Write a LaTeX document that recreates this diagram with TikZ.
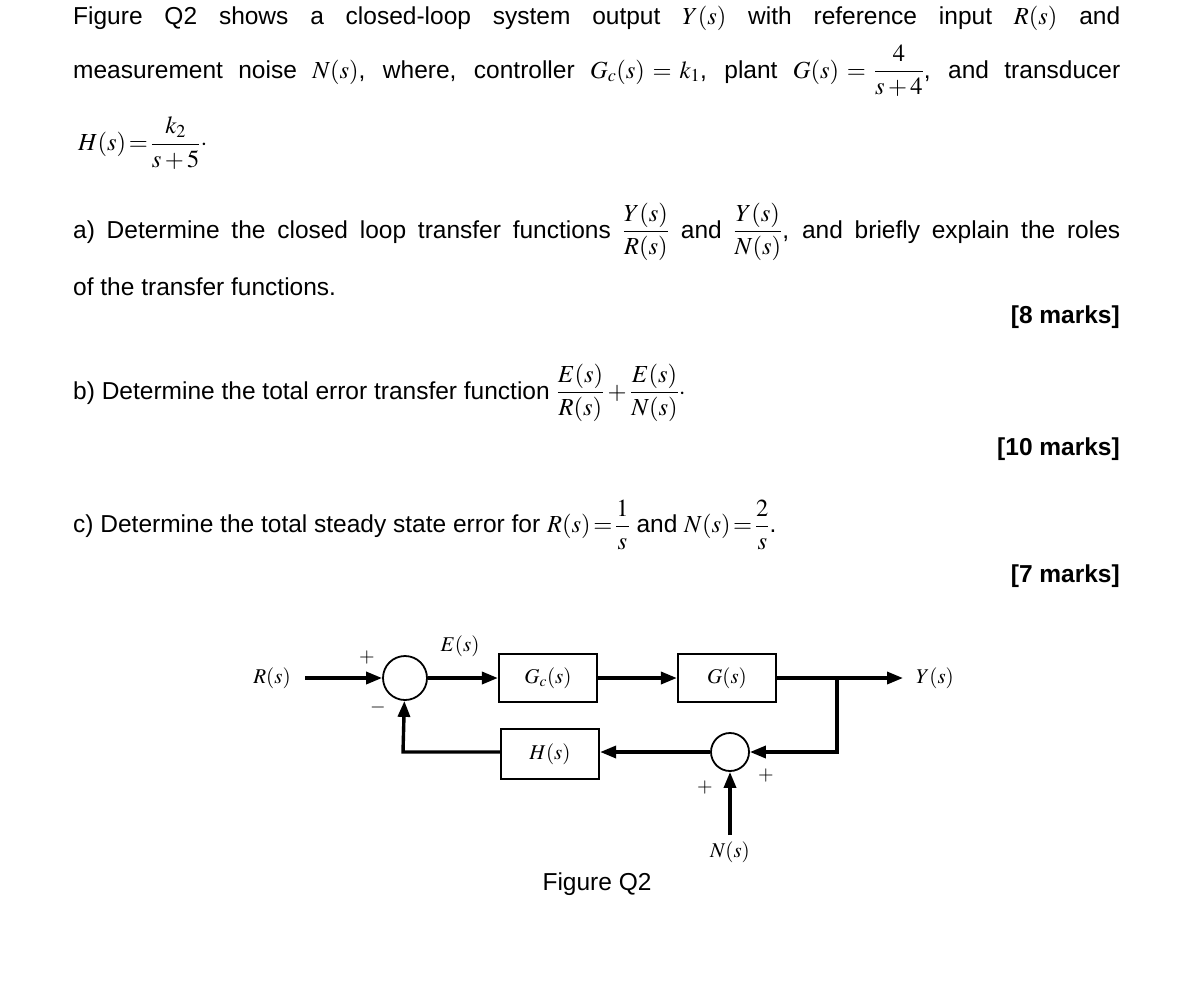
\documentclass[tikz,border=0pt]{standalone}
\usepackage{amsmath}
\usepackage{mathptmx}
\usepackage{fontspec}
\setmainfont{Liberation Sans}
\usetikzlibrary{arrows.meta}
\begin{document}
\begin{tikzpicture}[x=1pt,y=-1pt,
  txt/.style={anchor=west,inner sep=0pt,font=\fontsize{24.5}{29}\selectfont},
  mk/.style={anchor=east,inner sep=0pt,font=\fontsize{24.5}{29}\selectfont\bfseries},
  blk/.style={draw,line width=2.2pt,minimum width=98pt,minimum height=48pt,font=\fontsize{21}{24}\selectfont},
  sum/.style={draw,circle,line width=1.8pt,minimum size=#1,inner sep=0pt},
  lbl/.style={font=\fontsize{21}{24}\selectfont,inner sep=0pt},
  sg/.style={font=\fontsize{20}{22}\selectfont,inner sep=0pt},
  w/.style={line width=3.4pt},
  a/.style={w,-{Triangle[length=16pt,width=12pt]}}]
\useasboundingbox (0,0) rectangle (1193,983);
\node[txt] (l1) at (73,18) {\makebox[1047pt][s]{Figure Q2 shows a closed-loop system output $Y(s)$ with reference input $R(s)$ and}};
\node[txt] (l2) at (73,71) {\makebox[1047pt][s]{measurement noise $N(s)$, where, controller $G_c(s)\!=\!k_1$, plant $G(s)\!=\!\dfrac{4}{s+4}$, and transducer}};
\node[txt] (l3) at (78,143) {$H(s)\!=\!\dfrac{k_2}{s+5}\cdot$};
\node[txt] (a1) at (73,232) {\makebox[1047pt][s]{a) Determine the closed loop transfer functions $\dfrac{Y(s)}{R(s)}$ and $\dfrac{Y(s)}{N(s)}$, and briefly explain the roles}};
\node[txt] (a2) at (73,287) {of the transfer functions.};
\node[mk] (m8) at (1120,317) {[8 marks]};
\node[txt] (b1) at (73,393) {b) Determine the total error transfer function $\dfrac{E(s)}{R(s)}+\dfrac{E(s)}{N(s)}\cdot$};
\node[mk] (m10) at (1120,449) {[10 marks]};
\node[txt] (c1) at (73,525) {c) Determine the total steady state error for $R(s)\!=\!\dfrac{1}{s}$ and $N(s)\!=\!\dfrac{2}{s}$.};
\node[mk] (m7) at (1120,576) {[7 marks]};
% diagram
\node[lbl] (R) at (272,678) {$R(s)$};
\node[sum=44pt] (s1) at (405,678) {};
\node[blk] (Gc) at (548,678) {$G_c(s)$};
\node[blk] (G) at (727,678) {$G(s)$};
\coordinate (br) at (837,678);
\node[lbl] (Y) at (935,678) {$Y(s)$};
\coordinate (ye) at (903,678);
\node[sum=38pt] (s2) at (730,752) {};
\node[blk,minimum height=50pt] (H) at (550,754) {$H(s)$};
\node[lbl] (N) at (730,852) {$N(s)$};
\coordinate (nb) at (730,835);
\coordinate (fl) at (403,752);
\draw[a] (305,678) -- (s1);
\draw[a] (s1) -- (Gc);
\draw[a] (Gc) -- (G);
\draw[a] (G) -- (br) -- (ye);
\draw[a] (br) |- (s2);
\draw[a] (s2) -- (H.east|-s2);
\draw[a] (H.west|-fl) -- (fl) -- (s1);
\draw[a] (nb) -- (s2);
\node[lbl] (E) at (460,646) {$E(s)$};
\node[sg] (p1) at (367,657) {$+$};
\node[sg] (m1) at (378,707) {$-$};
\node[sg] (p2) at (705,787) {$+$};
\node[sg] (p3) at (766,775) {$+$};
\node[txt,anchor=center] (cap) at (597,884) {Figure Q2};
\end{tikzpicture}
\end{document}
